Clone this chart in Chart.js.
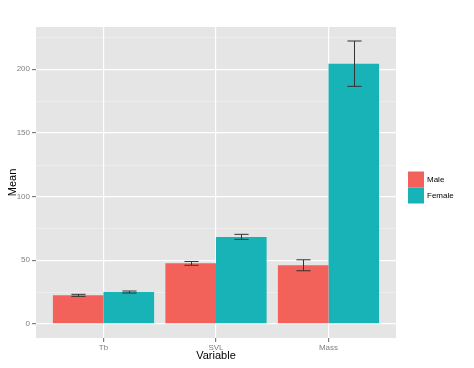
<!DOCTYPE html>
<html>
<head>
<meta charset="utf-8">
<script src="https://cdn.jsdelivr.net/npm/chart.js@4/dist/chart.umd.min.js"></script>
<style>
    html, body { margin: 0; padding: 0; background: #fff; }
    #wrap { width: 474px; height: 368px; }
</style>
</head>
<body>
<div id="wrap"><canvas id="barChart" width="474" height="368"></canvas></div>
<script>
var categories = ['Tb', 'SVL', 'Mass'];
var seriesNames = ['Male', 'Female'];
var maleMean = [22.4, 47.5, 46];
var maleErr = [0.8, 1.5, 4.3];
var femaleMean = [25, 68.3, 204.3];
var femaleErr = [0.8, 2, 17.8];
var yTicks = [0, 50, 100, 150, 200];
var yMinor = [25, 75, 125, 175, 225];

var colors = ['#F3615B', '#18B3B6'];
var tickGrey = '#7F7F7F';

function toPoints(values) {
    return values.map(function(v, i) { return {x: i + 1, y: v}; });
}

// grey panel + minor grid, drawn under everything
var panelPlugin = {
    id: 'panel',
    beforeDraw: function(chart) {
        var ctx = chart.ctx;
        var a = chart.chartArea;
        var y = chart.scales.y;
        ctx.save();
        ctx.fillStyle = '#E5E5E5';
        ctx.fillRect(a.left, a.top, a.right - a.left, a.bottom - a.top);
        ctx.strokeStyle = '#F2F2F2';
        ctx.lineWidth = 0.6;
        yMinor.forEach(function(v) {
            var py = Math.round(y.getPixelForValue(v)) + 0.5;
            ctx.beginPath();
            ctx.moveTo(a.left, py);
            ctx.lineTo(a.right, py);
            ctx.stroke();
        });
        ctx.restore();
    }
};

var errorPlugin = {
    id: 'errorBars',
    afterDatasetsDraw: function(chart) {
        var ctx = chart.ctx;
        var y = chart.scales.y;
        var errs = [maleErr, femaleErr];
        ctx.save();
        ctx.strokeStyle = '#333333';
        ctx.lineWidth = 1;
        chart.data.datasets.forEach(function(ds, d) {
            var meta = chart.getDatasetMeta(d);
            meta.data.forEach(function(bar, i) {
                var v = ds.data[i].y;
                var hi = y.getPixelForValue(v + errs[d][i]);
                var lo = y.getPixelForValue(v - errs[d][i]);
                var half = bar.width * 0.14;
                var x = Math.round(bar.x) + 0.5;
                ctx.beginPath();
                ctx.moveTo(x, hi); ctx.lineTo(x, lo);
                ctx.moveTo(x - half, hi); ctx.lineTo(x + half, hi);
                ctx.moveTo(x - half, lo); ctx.lineTo(x + half, lo);
                ctx.stroke();
            });
        });
        ctx.restore();
    }
};

var legendPlugin = {
    id: 'sideLegend',
    afterDraw: function(chart) {
        var ctx = chart.ctx;
        var a = chart.chartArea;
        var key = 16;
        var left = a.right + 12;
        var top = (a.top + a.bottom) / 2 + 5 - key;
        ctx.save();
        ctx.font = '8px "Liberation Sans", Arial, sans-serif';
        ctx.textBaseline = 'middle';
        chart.data.datasets.forEach(function(ds, d) {
            var ky = top + d * key;
            ctx.fillStyle = ds.backgroundColor;
            ctx.fillRect(left, ky, key, key);
            ctx.fillStyle = '#000';
            ctx.fillText(ds.label, left + key + 3, ky + key / 2);
        });
        ctx.restore();
    }
};

var fontFamily = '"Liberation Sans", Arial, sans-serif';

var myChart = new Chart(document.getElementById('barChart'), {
    type: 'bar',
    data: {
        datasets: [{
            label: seriesNames[0],
            data: toPoints(maleMean),
            backgroundColor: colors[0],
            borderWidth: 0
        }, {
            label: seriesNames[1],
            data: toPoints(femaleMean),
            backgroundColor: colors[1],
            borderWidth: 0
        }]
    },
    options: {
        responsive: false,
        animation: false,
        events: [],
        categoryPercentage: 0.9,
        barPercentage: 1.0,
        layout: { padding: { top: 27, right: 78, bottom: 0, left: 0 } },
        plugins: {
            legend: { display: false },
            tooltip: { enabled: false }
        },
        scales: {
            x: {
                type: 'linear',
                min: 0.4,
                max: 3.6,
                offset: false,
                afterBuildTicks: function(scale) {
                    scale.ticks = categories.map(function(c, i) { return {value: i + 1}; });
                },
                afterFit: function(scale) { scale.height = 30; },
                ticks: {
                    color: tickGrey,
                    font: { size: 8, family: fontFamily },
                    padding: 1,
                    maxRotation: 0,
                    callback: function(v) { return categories[v - 1]; }
                },
                grid: {
                    color: '#FFFFFF',
                    lineWidth: 1.2,
                    tickColor: tickGrey,
                    tickLength: 4,
                    offset: false
                },
                border: { display: false },
                title: {
                    display: true,
                    text: 'Variable',
                    color: '#000',
                    font: { size: 11, family: fontFamily },
                    padding: { top: 0, bottom: 5 }
                }
            },
            y: {
                min: -11.1,
                max: 233.1,
                afterBuildTicks: function(scale) {
                    scale.ticks = yTicks.map(function(v) { return {value: v}; });
                },
                afterFit: function(scale) { scale.width = 36; },
                ticks: {
                    color: tickGrey,
                    font: { size: 8, family: fontFamily },
                    padding: 2
                },
                grid: {
                    color: '#FFFFFF',
                    lineWidth: 1.2,
                    tickColor: tickGrey,
                    tickLength: 4
                },
                border: { display: false },
                title: {
                    display: true,
                    text: 'Mean',
                    color: '#000',
                    font: { size: 11, family: fontFamily },
                    padding: { top: 6, bottom: 0 }
                }
            }
        }
    },
    plugins: [panelPlugin, errorPlugin, legendPlugin]
});
</script>
</body>
</html>
